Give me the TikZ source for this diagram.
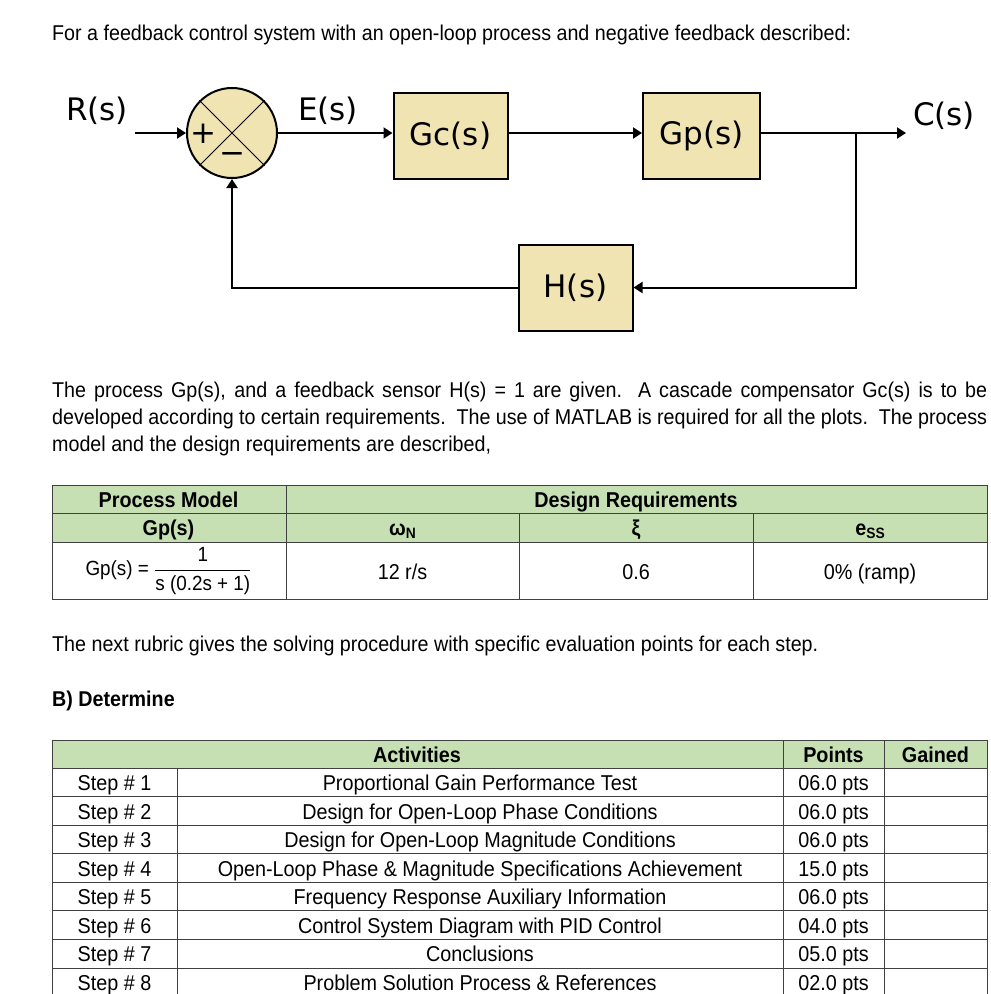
\documentclass[tikz,border=0pt]{standalone}
\usepackage{fontspec}
\setmainfont{Liberation Sans}[FakeStretch=0.92]
\newfontfamily\blockfont{DejaVu Sans}
\usetikzlibrary{arrows.meta, positioning}
\definecolor{boxfill}{RGB}{240,228,178}
\definecolor{tabgreen}{RGB}{198,224,180}

\begin{document}
\begin{tikzpicture}[x=1pt, y=-1pt,
  blk/.style={draw, line width=2pt, fill=boxfill, minimum width=114pt,
              minimum height=86pt, inner sep=0pt,
              font=\blockfont\fontsize{31}{31}\selectfont},
  sumj/.style={draw, circle, line width=2pt, fill=boxfill,
               minimum size=90pt, inner sep=0pt},
  sig/.style={-{Triangle[length=9pt, width=11pt]}, line width=2pt},
  lab/.style={inner sep=0pt, font=\blockfont\fontsize{31}{31}\selectfont},
  txt/.style={anchor=base west, inner sep=0pt, font=\fontsize{21.4}{27}\selectfont},
  cell/.style={anchor=base, inner sep=0pt, font=\fontsize{21.5}{26}\selectfont},
  head/.style={cell, font=\fontsize{21.5}{26}\selectfont\bfseries},
  grid/.style={draw=black!75, line width=1pt}
]
\useasboundingbox (0,0) rectangle (991,994);
\clip (0,0) rectangle (991,994);

% text above the loop
\node[txt] (intro) at (52,40) {For a feedback control system with an open-loop process and negative feedback described:};

% block diagram
\node[sumj] (sum) at (232,133) {};
\draw[line width=1pt] (sum.north west) -- (sum.south east);
\draw[line width=1pt] (sum.north east) -- (sum.south west);
\node[lab] (plus) at (203,134) {+};
\node[lab] (minus) at (232,158) {\char"2212};
\node[blk] (gc) at (450.5,136) {Gc(s)};
\node[blk, minimum width=117pt] (gp) at (701.5,136) {Gp(s)};
\node[blk] (h) at (575.5,287.5) {H(s)};
\coordinate (rin) at (135,133);
\coordinate (cout) at (906,133);
\coordinate (br) at (856,133);
\node[lab] (rlab) at (97,111) {R(s)};
\node[lab] (elab) at (328,111) {E(s)};
\node[lab] (clab) at (944,116) {C(s)};
\draw[sig] (rin) -- (sum.west);
\draw[sig] (sum.east) -- (sum.east -| gc.west);
\draw[sig] (gc.east |- sum) -- (gp.west |- sum);
\draw[sig] (gp.east |- sum) -- (cout);
\draw[sig] (br) |- (h.east);
\draw[sig] (h.west) -| (sum.south);

% paragraph
\node[txt] (p1) at (52,397) {\makebox[935pt][s]{The process Gp(s), and a feedback sensor H(s) = 1 are given.\ \ A cascade compensator Gc(s) is to be}};
\node[txt] (p2) at (52,424) {\makebox[935pt][s]{developed according to certain requirements.\ \ The use of MATLAB is required for all the plots.\ \ The process}};
\node[txt] (p3) at (52,451) {model and the design requirements are described,};

% first table
\fill[tabgreen] (52,485) rectangle (987,542);
\draw[grid] (52,485) rectangle (987,599);
\draw[grid] (52,513) -- (987,513);
\draw[grid] (52,542) -- (987,542);
\draw[grid] (286,485) -- (286,599);
\draw[grid] (519,513) -- (519,599);
\draw[grid] (753,513) -- (753,599);
\node[head] (pm) at (168.5,507) {Process Model};
\node[head] (dr) at (636,507) {Design Requirements};
\node[head] (gph) at (168.5,535.5) {Gp(s)};
\node[head] (wn) at (402.5,535.5) {ω\raisebox{-3pt}{\fontsize{15}{15}\selectfont N}};
\node[head] (xi) at (636,535.5) {ξ};
\node[head] (ess) at (870,535.5) {e\raisebox{-3pt}{\fontsize{15}{15}\selectfont SS}};
\node[cell, anchor=center, font=\fontsize{20.5}{22}\selectfont] (gpf) at (168.5,571) {Gp(s) = $\displaystyle\frac{\mbox{1}}{\mbox{s (0.2s + 1)}}$};
\node[cell] (wnv) at (402.5,579) {12 r/s};
\node[cell] (xiv) at (636,579) {0.6};
\node[cell] (essv) at (870,579) {0\% (ramp)};

\node[txt] (rubric) at (52,651) {The next rubric gives the solving procedure with specific evaluation points for each step.};
\node[txt, font=\fontsize{21.4}{27}\selectfont\bfseries] (det) at (52,706) {B) Determine};

% rubric table
\fill[tabgreen] (52,740) rectangle (987,768);
\draw[grid] (52,740) -- (987,740);
\draw[grid] (52,768) -- (987,768);
\draw[grid] (52,740) -- (52,1000);
\draw[grid] (987,740) -- (987,1000);
\draw[grid] (177,768) -- (177,1000);
\draw[grid] (783,740) -- (783,1000);
\draw[grid] (884,740) -- (884,1000);
\node[head] (acth) at (417,762) {Activities};
\node[head] (ptsh) at (833.5,762) {Points};
\node[head] (gainh) at (935.5,762) {Gained};
\foreach \act/\pts [count=\i] in {Proportional Gain Performance Test/06.0,
    Design for Open-Loop Phase Conditions/06.0,
    Design for Open-Loop Magnitude Conditions/06.0,
    Open-Loop Phase \& Magnitude Specifications Achievement/15.0,
    Frequency Response Auxiliary Information/06.0,
    Control System Diagram with PID Control/04.0,
    Conclusions/05.0,
    Problem Solution Process \& References/02.0}{
  \node[cell] (step\i) at (114.5,{790.5+28.57*(\i-1)}) {Step \# \i};
  \node[cell] (act\i) at (480,{790.5+28.57*(\i-1)}) {\act};
  \node[cell] (pts\i) at (833.5,{790.5+28.57*(\i-1)}) {\pts{} pts};
  \draw[grid] (52,{768+28.57*\i}) -- (987,{768+28.57*\i});
}
\end{tikzpicture}
\end{document}
